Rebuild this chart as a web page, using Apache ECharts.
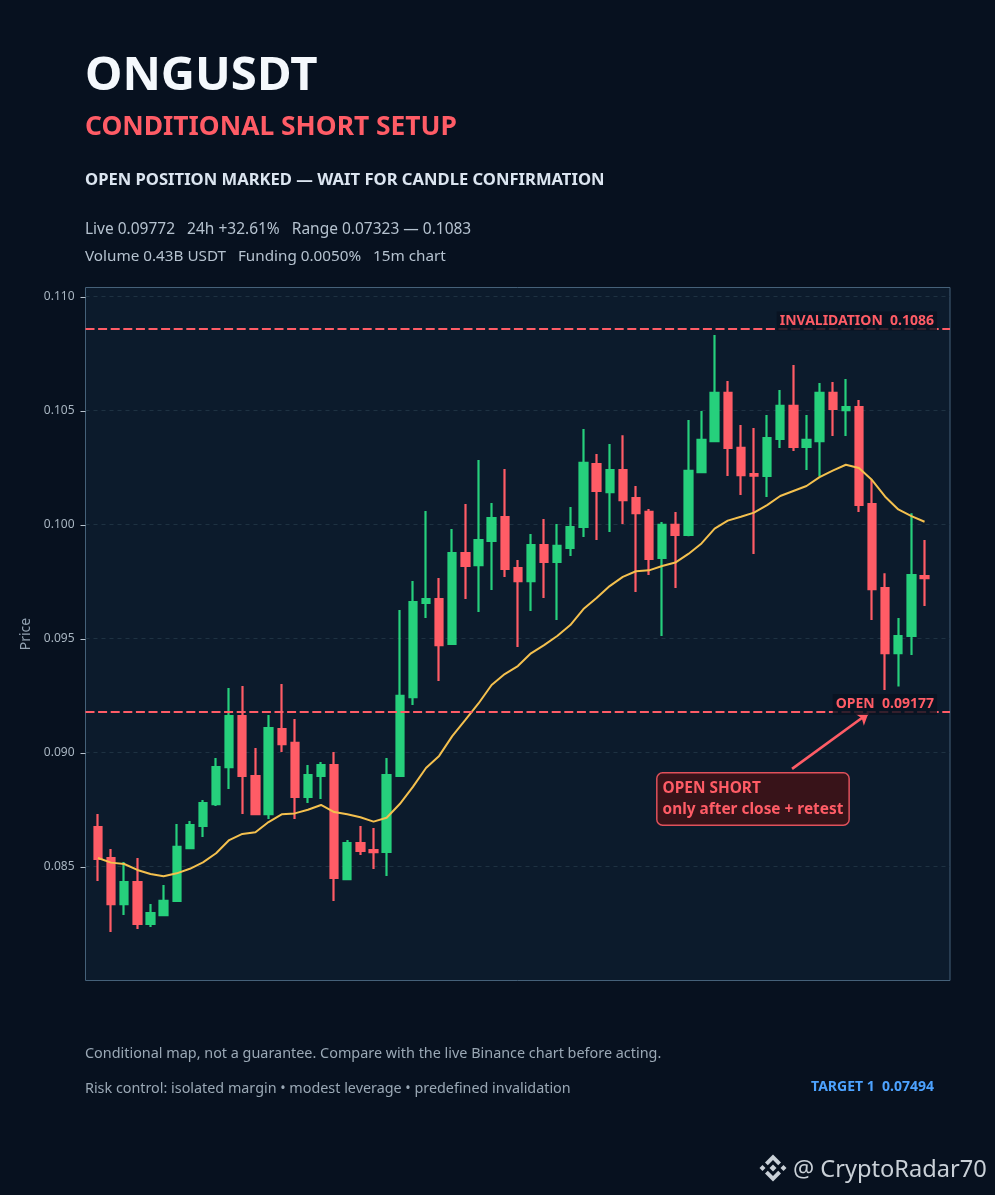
<!DOCTYPE html>
<html><head><meta charset="utf-8">
<style>html,body{margin:0;padding:0;background:#07111f}#c{width:995px;height:1195px}</style>
<script src="https://cdn.jsdelivr.net/npm/echarts@6/dist/echarts.min.js"></script></head>
<body><div id="c"></div>
<script>
const opens=[.08673,.08537,.08335,.08432,.08248,.08287,.08349,.08581,.08678,.08774,.08936,.09160,.08897,.08730,.09103,.09042,.08805,.08897,.08945,.08445,.08603,.08572,.08564,.08897,.09243,.09656,.09673,.09476,.09875,.09822,.09928,.10033,.09809,.09752,.09910,.09836,.09897,.09989,.10265,.10142,.10239,.10116,.10055,.09853,.09998,.09954,.10230,.10366,.10577,.10336,.10221,.10213,.10375,.10520,.10340,.10366,.10577,.10502,.10515,.10090,.09721,.09436,.09511,.09774];
const closes=[.08533,.08335,.08432,.08248,.08296,.08349,.08586,.08682,.08778,.08936,.09160,.08897,.08730,.09107,.09037,.08805,.08901,.08945,.08450,.08603,.08568,.08563,.08901,.09248,.09660,.09673,.09471,.09875,.09818,.09932,.10028,.09805,.09752,.09910,.09836,.09906,.09989,.10270,.10147,.10239,.10107,.10050,.09849,.09998,.09954,.10235,.10371,.10577,.10336,.10217,.10214,.10379,.10520,.10340,.10371,.10577,.10507,.10515,.10086,.09717,.09436,.09511,.09778,.09765];
const lows=[.08436,.08213,.08287,.08226,.08235,.08283,.08349,.08577,.08629,.08765,.08840,.08730,.08726,.08708,.09002,.08708,.08778,.08796,.08349,.08445,.08550,.08489,.08458,.08897,.09208,.09590,.09314,.09476,.09673,.09616,.09713,.09770,.09463,.09621,.09678,.09581,.09862,.09945,.09932,.09967,.10002,.09704,.09778,.09511,.09721,.09949,.10230,.10366,.10213,.10129,.09871,.10121,.10335,.10322,.10239,.10210,.10388,.10388,.10055,.09581,.09274,.09289,.09428,.09643];
const highs=[.08730,.08577,.08520,.08537,.08335,.08419,.08686,.08700,.08792,.08976,.09283,.09292,.09020,.09164,.09300,.09147,.08945,.08958,.09002,.08616,.08678,.08669,.08976,.09625,.09752,.10059,.09765,.09980,.10090,.10283,.10094,.10243,.09844,.09958,.10024,.10002,.10077,.10419,.10309,.10353,.10392,.10169,.10068,.10011,.10055,.10458,.10498,.10831,.10629,.10436,.10423,.10480,.10590,.10700,.10480,.10621,.10625,.10638,.10546,.10195,.09786,.09590,.10049,.09932];
const ema=[.08537,.08517,.08511,.08485,.08467,.08457,.08470,.08490,.08518,.08558,.08616,.08643,.08650,.08695,.08729,.08733,.08749,.08770,.08739,.08729,.08716,.08697,.08714,.08774,.08849,.08932,.08985,.09072,.09143,.09215,.09296,.09344,.09379,.09435,.09471,.09511,.09559,.09629,.09678,.09730,.09770,.09795,.09799,.09818,.09833,.09871,.09917,.09982,.10017,.10034,.10052,.10085,.10125,.10147,.10169,.10208,.10236,.10262,.10248,.10195,.10122,.10066,.10037,.10012];
const yTicks=[.085,.09,.095,.1,.105,.11];
const invalidation=0.1086, openLevel=0.09177;
const RED='#ff5c66',GREEN='#26d07c',FONT='"Noto Sans"';
const xMin=-0.953,xMax=64.94;
const candles=opens.map((o,i)=>[i,o,closes[i],lows[i],highs[i]]);
const emaPts=ema.map((v,i)=>[i,v]);
const txt=(x,y,text,size,fill,weight,extra)=>({type:'text',x,y,z:20,style:Object.assign({text,fontFamily:FONT,fontSize:size,fill,fontWeight:weight||'normal',textVerticalAlign:'middle',textAlign:'left'},extra||{})});
const poly=pts=>({type:'polygon',shape:{points:pts},style:{fill:'#c9d0d7'},z:20});
const ix=773,iy=1168;
const rel=a=>a.map(p=>[ix+p[0],iy+p[1]]);
const chart=echarts.init(document.getElementById('c'),null,{renderer:'canvas'});
chart.setOption({
 animation:false,backgroundColor:'#07111f',
 grid:{left:85.5,top:287.5,width:864.5,height:693,show:true,backgroundColor:'#0c1b2c',borderColor:'#456179',borderWidth:1},
 xAxis:{type:'value',min:xMin,max:xMax,show:false,splitLine:{show:false}},
 yAxis:{type:'value',min:.08,max:.110395,interval:.005,scale:true,
  name:'Price',nameLocation:'middle',nameGap:45,nameTextStyle:{color:'#93a3b3',fontSize:14,fontFamily:FONT},
  axisLine:{show:false},
  axisTick:{show:false,customValues:yTicks},
  axisLabel:{color:'#a8b5c1',fontSize:12,fontFamily:FONT,margin:11,padding:[5,0,0,0],customValues:yTicks,formatter:v=>v.toFixed(3)},
  splitLine:{show:true,lineStyle:{color:'#1e3242',type:[4,4],width:1}}},
 series:[
  {type:'custom',data:yTicks.map(v=>[xMin,v]),encode:{x:0,y:1},clip:false,silent:true,z:2,
   renderItem:(params,api)=>{const p=api.coord([api.value(0),api.value(1)]);const y=Math.round(p[1])+.5;
    return {type:'line',shape:{x1:p[0]-5,y1:y,x2:p[0],y2:y},style:{stroke:'#b8c4cf',lineWidth:1}};}},
  {type:'candlestick',data:candles,barWidth:7.8,z:3,encode:{x:0,y:[1,2,3,4]},
   itemStyle:{color:GREEN,color0:RED,borderColor:GREEN,borderColor0:RED,borderWidth:2.2}},
  {type:'line',data:emaPts,symbol:'none',z:4,lineStyle:{color:'#f4c04e',width:2},silent:true},
  {type:'line',data:[],z:5,silent:true,
   markLine:{silent:true,symbol:'none',precision:5,animation:false,label:{show:false},
    lineStyle:{color:RED,width:2,type:[9,3.6],opacity:1},
    data:[{yAxis:invalidation},{yAxis:openLevel},
     [{coord:[52.9,.08928],symbol:'none',lineStyle:{type:'solid',width:2.6,color:RED}},{coord:[58.72,.09172],symbol:'arrow',symbolSize:11}]]},
   markPoint:{silent:true,symbol:'circle',symbolSize:1,itemStyle:{color:'rgba(0,0,0,0)'},animation:false,
    label:{show:true,position:'inside',fontFamily:FONT,fontWeight:'bold',color:RED,fontSize:14,align:'right',verticalAlign:'middle',
     backgroundColor:'rgba(8,18,32,.82)',padding:[3,3,2,3]},
    data:[
     {coord:[63.95,.10893],value:'INVALIDATION  0.1086',label:{formatter:'INVALIDATION  0.1086'}},
     {coord:[63.95,.09211],value:'OPEN  0.09177',label:{formatter:'OPEN  0.09177',padding:[4,3,3,3]}},
     {coord:[42.65,.08796],value:'note',label:{formatter:'OPEN SHORT\nonly after close + retest',align:'left',fontSize:15.4,lineHeight:21,
       backgroundColor:'#381319',borderColor:'#e0515b',borderWidth:1.5,borderRadius:5,padding:[8,5,1,5]}}
    ]}}
 ],
 graphic:[
  txt(85,77,'ONGUSDT',47.3,'#f4f8fc','bold'),
  txt(85,127,'CONDITIONAL SHORT SETUP',26.4,RED,'bold'),
  txt(85,180,'OPEN POSITION MARKED — WAIT FOR CANDLE CONFIRMATION',16.6,'#dbe5f0','bold'),
  txt(85,229.5,'Live 0.09772   24h +32.61%   Range 0.07323 — 0.1083',15.49,'#b5c2cf'),
  txt(85,256.5,'Volume 0.43B USDT   Funding 0.0050%   15m chart',15.25,'#b5c2cf'),
  txt(85,1053.5,'Conditional map, not a guarantee. Compare with the live Binance chart before acting.',14.4,'#9aa8b5'),
  txt(85,1089,'Risk control: isolated margin • modest leverage • predefined invalidation',14.35,'#9aa8b5'),
  txt(934,1087,'TARGET 1  0.07494',14,'#4da3ff','bold',{textAlign:'right'}),
  txt(793,1170,'@ CryptoRadar70',23.6,'#c9d0d7','normal'),
  poly(rel([[-13.5,0],[-10.5,-3],[-7.5,0],[-10.5,3]])),
  poly(rel([[13.5,0],[10.5,-3],[7.5,0],[10.5,3]])),
  poly(rel([[0,-3.5],[3.5,0],[0,3.5],[-3.5,0]])),
  poly(rel([[0,-13.5],[8,-5.5],[5.2,-2.8],[0,-8],[-5.2,-2.8],[-8,-5.5]])),
  poly(rel([[0,13.5],[8,5.5],[5.2,2.8],[0,8],[-5.2,2.8],[-8,5.5]]))
 ]
});
</script></body></html>
